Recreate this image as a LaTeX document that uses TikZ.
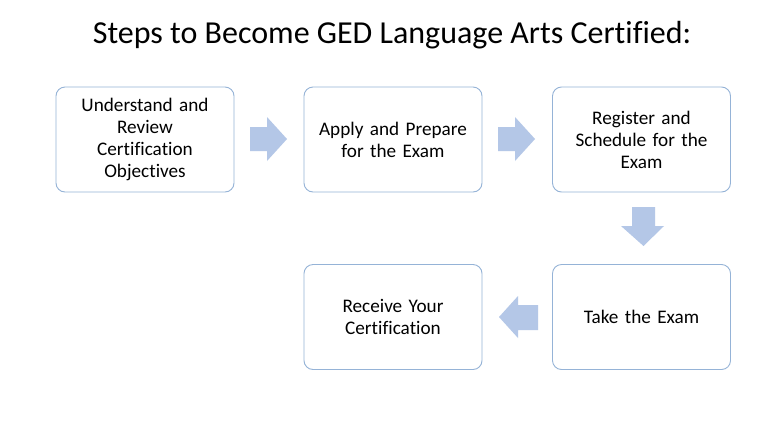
\documentclass[tikz,border=0pt]{standalone}
\usepackage{fontspec}
\setmainfont[Ligatures=CommonOff]{Carlito}
\definecolor{boxline}{RGB}{149,179,215}
\definecolor{arrowfill}{RGB}{180,199,231}
\begin{document}
\begin{tikzpicture}[x=1pt,y=-1pt,
  stepbox/.style={draw=boxline, line width=0.9pt, rounded corners=9pt, fill=white,
    minimum width=178pt, minimum height=105pt, align=center, text width=170pt,
    font=\fontsize{19.2}{22}\selectfont, inner sep=0pt},
  blockarrow/.style={fill=arrowfill, draw=none}]
\useasboundingbox (0,0) rectangle (768,432);
\fill[white] (0,0) rectangle (768,432);
\node[font=\fontsize{32}{36}\selectfont] (title) at (392,35) {Steps to Become GED Language Arts Certified:};
\node[stepbox] (s1) at (145,139.5) {Understand and\\Review\\Certification\\Objectives};
\node[stepbox] (s2) at (393,139.5) {Apply and Prepare\\for the Exam};
\node[stepbox] (s3) at (641.5,139.5) {Register and\\Schedule for the\\Exam};
\node[stepbox] (s4) at (641.5,317) {Take the Exam};
\node[stepbox] (s5) at (393,317) {Receive Your\\Certification};
% right arrows
\fill[blockarrow] (250,127) -- (267,127) -- (267,117) -- (287,139) -- (267,161) -- (267,151) -- (250,151) -- cycle;
\fill[blockarrow] (498,127) -- (515,127) -- (515,117) -- (535,139) -- (515,161) -- (515,151) -- (498,151) -- cycle;
% down arrow
\fill[blockarrow] (632,207) -- (655,207) -- (655,226) -- (664,226) -- (643.5,246) -- (621,226) -- (632,226) -- cycle;
% left arrow
\fill[blockarrow] (538,305) -- (518,305) -- (518,296) -- (499,317) -- (518,338) -- (518,330) -- (538,330) -- cycle;
\end{tikzpicture}
\end{document}
